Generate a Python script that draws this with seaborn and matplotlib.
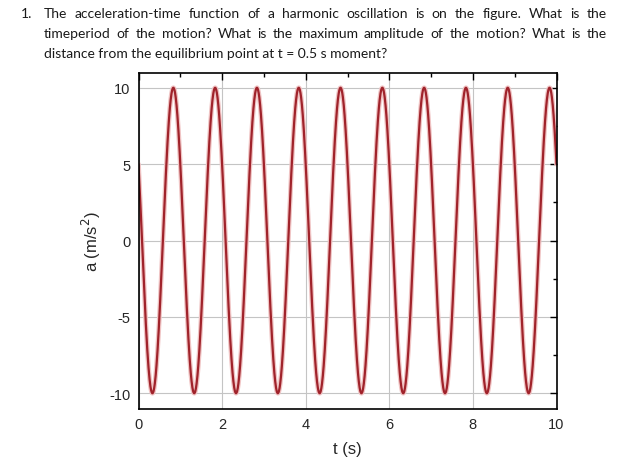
import numpy as np
import pandas as pd
import seaborn as sns
import matplotlib
matplotlib.use("Agg")
import matplotlib.pyplot as plt
from matplotlib.ticker import MultipleLocator

# values
amplitude = 10.0          # m/s^2
period = 1.0              # s
phase = 5 * np.pi / 6     # a(0) = 5 and falling
t_start, t_end = 0.0, 10.0

question_lines = [
    "The acceleration-time function of a harmonic oscillation is on the figure. What is the",
    "timeperiod of the motion? What is the maximum amplitude of the motion? What is the",
    "distance from the equilibrium point at t = 0.5 s moment?",
]

t = np.linspace(t_start, t_end, 2001)
a = amplitude * np.sin(2 * np.pi * t / period + phase)
df = pd.DataFrame({"t": t, "a": a})

sns.set_style("white")
plt.rcParams["font.family"] = ["Liberation Sans", "DejaVu Sans"]
plt.rcParams["axes.unicode_minus"] = False

W, H = 631, 464
fig = plt.figure(figsize=(W / 100, H / 100), dpi=100)
ax = fig.add_axes([138.5 / W, 1 - 409.5 / H, (556.5 - 138.5) / W, (409.5 - 73.5) / H])

# light halo + dark red curve
sns.lineplot(data=df, x="t", y="a", ax=ax, color="#f0c4c4", linewidth=3.4, estimator=None)
sns.lineplot(data=df, x="t", y="a", ax=ax, color="#a0232b", linewidth=1.6, estimator=None)

ax.set_xlim(0, 10)
ax.set_ylim(-11, 11)
ax.set_xticks([0, 2, 4, 6, 8, 10])
ax.set_yticks([-10, -5, 0, 5, 10])
ax.xaxis.set_minor_locator(MultipleLocator(1))
ax.yaxis.set_minor_locator(MultipleLocator(2.5))
ax.grid(True, which="major", color="#c4c4c4", linewidth=0.8)
ax.set_axisbelow(True)
ax.tick_params(which="both", direction="in", top=True, right=True, width=1.0,
               color="black", labelsize=10.5, pad=6)
ax.tick_params(which="major", length=5)
ax.tick_params(which="minor", length=3)
for s in ax.spines.values():
    s.set_color("black")
    s.set_linewidth(1.2)

ax.set_xlabel("t (s)", fontsize=12, labelpad=7)
ax.set_ylabel("a (m/s$^2$)", fontsize=12, labelpad=4)

# question text, justified like the original
renderer = fig.canvas.get_renderer()
qfont = ["Lato", "DejaVu Sans"]
qcolor = "#1a1a1a"


def width_px(txt, size):
    tmp = fig.text(0, 0, txt, fontsize=size, family=qfont)
    w = tmp.get_window_extent(renderer).width
    tmp.remove()
    return w


size = 10 * 342 / width_px(question_lines[2], 10)
x0, x1 = 44, 607
baselines = [18.5, 38, 57.5]

fig.text(21 / W, 1 - baselines[0] / H, "1.", fontsize=size, family=qfont,
         va="baseline", color=qcolor)
for i, line in enumerate(question_lines):
    y = 1 - baselines[i] / H
    if i == len(question_lines) - 1:
        fig.text(x0 / W, y, line, fontsize=size, family=qfont, va="baseline", color=qcolor)
        continue
    words = line.split(" ")
    widths = [width_px(w, size) for w in words]
    gap = (x1 - x0 - sum(widths)) / (len(words) - 1)
    x = x0
    for w, wd in zip(words, widths):
        fig.text(x / W, y, w, fontsize=size, family=qfont, va="baseline", color=qcolor)
        x += wd + gap

fig.savefig("out.png", dpi=100)
